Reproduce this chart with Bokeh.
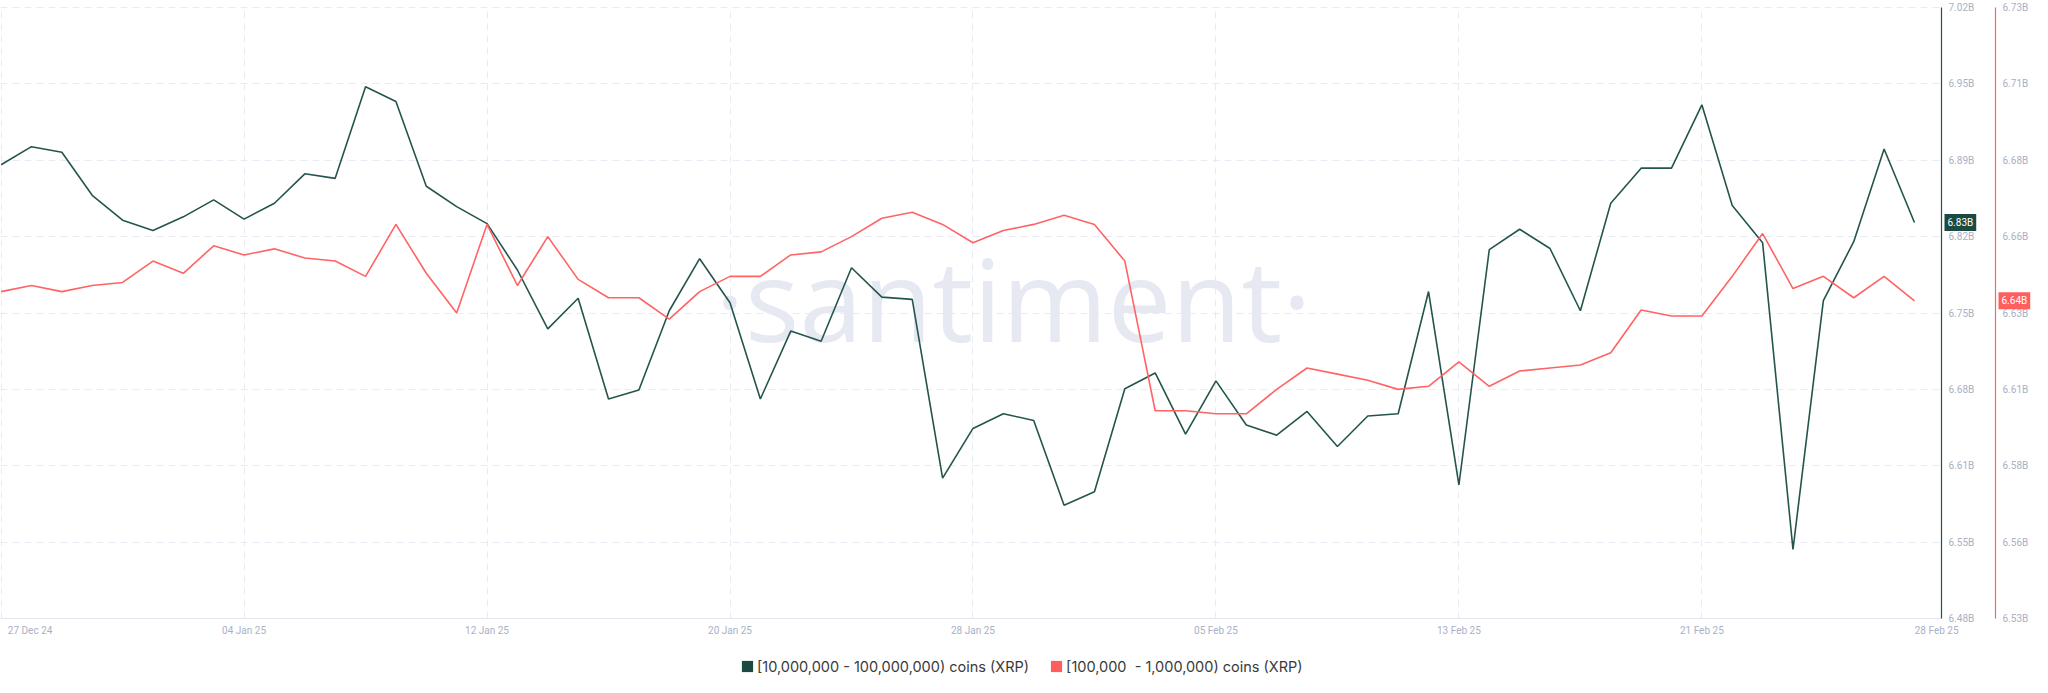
import pandas as pd
from bokeh.plotting import figure
from bokeh.models import (Range1d, LinearAxis, FixedTicker, Label, Legend,
                          LegendItem, ColumnDataSource)
from bokeh.embed import file_html
from bokeh.resources import INLINE

# ---------------- data ----------------
dates = pd.date_range("2024-12-27", "2025-02-28", freq="D")

green_name = "[10,000,000 - 100,000,000) coins (XRP)"
red_name = "[100,000  - 1,000,000) coins (XRP)"

green = [6.881, 6.897, 6.892, 6.854, 6.832, 6.823, 6.835, 6.850, 6.833, 6.847,
         6.873, 6.869, 6.950, 6.937, 6.862, 6.844, 6.829, 6.788, 6.736, 6.763,
         6.674, 6.682, 6.752, 6.798, 6.759, 6.674, 6.734, 6.725, 6.790, 6.764,
         6.762, 6.604, 6.648, 6.661, 6.655, 6.580, 6.592, 6.683, 6.697, 6.643,
         6.690, 6.651, 6.642, 6.663, 6.632, 6.659, 6.661, 6.769, 6.598, 6.806,
         6.824, 6.807, 6.752, 6.847, 6.878, 6.878, 6.934, 6.845, 6.812, 6.541,
         6.761, 6.813, 6.895, 6.830]

red = [6.640, 6.642, 6.640, 6.642, 6.643, 6.650, 6.646, 6.655, 6.652, 6.654,
       6.651, 6.650, 6.645, 6.662, 6.646, 6.633, 6.662, 6.642, 6.658, 6.644,
       6.638, 6.638, 6.631, 6.640, 6.645, 6.645, 6.652, 6.653, 6.658, 6.664,
       6.666, 6.662, 6.656, 6.660, 6.662, 6.665, 6.662, 6.650, 6.601, 6.601,
       6.600, 6.600, 6.608, 6.615, 6.613, 6.611, 6.608, 6.609, 6.617, 6.609,
       6.614, 6.615, 6.616, 6.620, 6.634, 6.632, 6.632, 6.645, 6.659, 6.641,
       6.645, 6.638, 6.645, 6.637]

x_tick_labels = ["27 Dec 24", "04 Jan 25", "12 Jan 25", "20 Jan 25", "28 Jan 25",
                 "05 Feb 25", "13 Feb 25", "21 Feb 25", "28 Feb 25"]
green_tick_labels = ["6.48B", "6.55B", "6.61B", "6.68B", "6.75B",
                     "6.82B", "6.89B", "6.95B", "7.02B"]
red_tick_labels = ["6.53B", "6.56B", "6.58B", "6.61B", "6.63B",
                   "6.66B", "6.68B", "6.71B", "6.73B"]

# ---------------- style / layout ----------------
W, H = 2048, 693
TOP_PX = 7                # top of the data area
BOTTOM_PX = 618           # bottom of the data area (x axis line)
DATA_RIGHT_PX = 1941      # where the green axis sits
RED_AXIS_PX = 1995        # where the red axis sits
LEFT_PAD_PX = 0.6         # keeps the first dashed grid line visible

GREEN = "#24554d"
GREEN_BADGE = "#1b4a43"
RED = "#ff6363"
RED_BADGE = "#ff5e5e"
TICK_COLOR = "#a9b0c7"
GRID_COLOR = "#e8ebf3"

x_data_end = 63.89        # day value at the green axis
px_per_day = (DATA_RIGHT_PX - LEFT_PAD_PX) / x_data_end
x_start = -LEFT_PAD_PX / px_per_day
x_total = x_start + W / px_per_day

g_lo, g_hi = 6.48, 7.02
r_lo, r_hi = 6.533, 6.733
g_ticks = [g_lo + (g_hi - g_lo) / 8 * k for k in range(9)]
r_ticks = [r_lo + (r_hi - r_lo) / 8 * k for k in range(9)]

# the frame fills the whole page; extend both value ranges above and below
span_px = BOTTOM_PX - TOP_PX
g_per_px = (g_hi - g_lo) / span_px
r_per_px = (r_hi - r_lo) / span_px
g_range = Range1d(g_lo - g_per_px * (H - BOTTOM_PX), g_hi + g_per_px * TOP_PX)
r_range = Range1d(r_lo - r_per_px * (H - BOTTOM_PX), r_hi + r_per_px * TOP_PX)

day = [(d - dates[0]).days for d in dates]
src = ColumnDataSource(dict(day=day, green=green, red=red))

grid_days = [(pd.Timestamp(s) - dates[0]).days for s in
             ["2024-12-27", "2025-01-04", "2025-01-12", "2025-01-20",
              "2025-01-28", "2025-02-05", "2025-02-13", "2025-02-21"]]
# edge labels are pulled inside the data area, as in the original
label_pos = [0.955] + grid_days[1:] + [63.73]

p = figure(width=W, height=H, x_range=Range1d(x_start, x_total),
           y_range=g_range, x_axis_location=None, y_axis_location=None,
           toolbar_location=None, output_backend="svg",
           min_border_left=0, min_border_top=0, min_border_right=0,
           min_border_bottom=0)
p.extra_y_ranges = {"red": r_range}
p.outline_line_color = None
p.background_fill_color = "white"
p.border_fill_color = "white"

# watermark
p.add_layout(Label(x=1013, x_units="screen",
                   y=g_lo + 0.525 * (g_hi - g_lo),
                   text="·santiment·", text_align="center",
                   text_baseline="middle", text_font="Open Sans",
                   text_font_size="114px", text_color="#e6e9f2",
                   level="underlay"))

# grids
p.xgrid.ticker = FixedTicker(ticks=grid_days)
p.xgrid.cross_bounds = (g_lo, g_hi)
p.ygrid.ticker = FixedTicker(ticks=g_ticks)
p.ygrid.cross_bounds = (x_start, x_data_end)
for g in (p.xgrid, p.ygrid):
    g.grid_line_color = GRID_COLOR
    g.grid_line_dash = "7 5"
    g.grid_line_width = 1


def strip_ticks(ax):
    ax.major_tick_out = 0
    ax.major_tick_in = 0
    ax.minor_tick_out = 0
    ax.minor_tick_in = 0


# x axis
xa = LinearAxis(fixed_location=g_lo, bounds=(x_start, x_data_end))
xa.ticker = FixedTicker(ticks=label_pos)
xa.major_label_overrides = {pos: lab for pos, lab in zip(label_pos, x_tick_labels)}
strip_ticks(xa)
xa.axis_line_color = "#e3e6ee"
xa.major_label_text_color = TICK_COLOR
xa.major_label_text_font = "Roboto"
xa.major_label_text_font_size = "10px"
xa.major_label_standoff = 6
p.add_layout(xa, "below")


def make_y(color, ticks, labels, loc, bounds, range_name=None):
    kw = {} if range_name is None else {"y_range_name": range_name}
    ax = LinearAxis(fixed_location=loc, bounds=bounds, **kw)
    ax.ticker = FixedTicker(ticks=ticks)
    ax.major_label_overrides = {t: l for t, l in zip(ticks, labels)}
    strip_ticks(ax)
    ax.axis_line_color = color
    ax.axis_line_width = 1.2
    ax.major_label_text_color = TICK_COLOR
    ax.major_label_text_font = "Roboto"
    ax.major_label_text_font_size = "10px"
    ax.major_label_standoff = 7
    return ax


p.add_layout(make_y(GREEN, g_ticks, green_tick_labels, x_data_end,
                    (g_lo, g_hi)), "right")
p.add_layout(make_y(RED, r_ticks, red_tick_labels,
                    x_start + RED_AXIS_PX / px_per_day, (r_lo, r_hi), "red"), "right")

# lines
p.line("day", "green", source=src, line_color=GREEN, line_width=1.6)
p.line("day", "red", source=src, line_color=RED, line_width=1.6, y_range_name="red")

# last value badges
p.add_layout(Label(x=DATA_RIGHT_PX + 3, x_units="screen", y=green[-1],
                   text=f"{green[-1]:.2f}B", text_align="left",
                   text_baseline="middle", text_font="Roboto",
                   text_font_size="10px", text_color="white",
                   background_fill_color=GREEN_BADGE, padding=3))
p.add_layout(Label(x=RED_AXIS_PX + 3, x_units="screen", y=red[-1], y_range_name="red",
                   text=f"{red[-1]:.2f}B", text_align="left",
                   text_baseline="middle", text_font="Roboto",
                   text_font_size="10px", text_color="white",
                   background_fill_color=RED_BADGE, padding=3))

# legend proxies (square swatches, nothing drawn in the plot)
nan = float("nan")
proxy = ColumnDataSource(dict(l=[nan], r=[nan], t=[nan], b=[nan]))
qg = p.quad(left="l", right="r", top="t", bottom="b", source=proxy,
            fill_color=GREEN_BADGE, line_color=None)
qr = p.quad(left="l", right="r", top="t", bottom="b", source=proxy,
            fill_color=RED_BADGE, line_color=None)
legend = Legend(items=[LegendItem(label=green_name, renderers=[qg]),
                       LegendItem(label=red_name, renderers=[qr])],
                orientation="horizontal", location=(740, 17),
                glyph_width=14, glyph_height=14, label_standoff=3,
                spacing=20, padding=0, margin=0, border_line_color=None,
                background_fill_alpha=0, label_text_font="Inter",
                label_text_font_size="14.5px", label_text_color="#3a3a3a",
                label_height=20)
p.add_layout(legend, "center")

open("out.html", "w").write(file_html(p, INLINE))
